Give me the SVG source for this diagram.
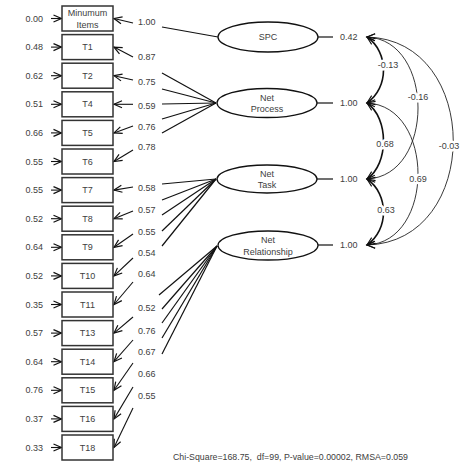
<svg xmlns="http://www.w3.org/2000/svg" width="474" height="467" viewBox="0 0 474 467">
<style>
text{font-family:"Liberation Sans",Arial,sans-serif;font-size:9px;fill:#404040}
.c{text-anchor:middle}
.e{text-anchor:end}
.box{fill:#fff;stroke:#333;stroke-width:1.5}
.ell{fill:#fff;stroke:#111;stroke-width:1.3}
.ln{stroke:#111;stroke-width:1.2;fill:none}
.ar{stroke:#111;stroke-width:1.1;fill:none;marker-end:url(#arr)}
.cv1{stroke:#111;stroke-width:1.6;fill:none;marker-start:url(#arr2);marker-end:url(#arr2)}
.cv2{stroke:#222;stroke-width:0.9;fill:none;marker-start:url(#arr2);marker-end:url(#arr2)}
.lb{paint-order:stroke;stroke:#fff;stroke-width:5px;stroke-linejoin:round}
</style>
<defs>
<marker id="arr" markerUnits="userSpaceOnUse" markerWidth="12" markerHeight="10" refX="8" refY="3.5" orient="auto-start-reverse" overflow="visible">
<path d="M0,0 L8,3.5 L0,7" fill="none" stroke="#111" stroke-width="1.2"/>
</marker>
<marker id="arr2" markerUnits="userSpaceOnUse" markerWidth="12" markerHeight="10" refX="8" refY="3.5" orient="auto-start-reverse" overflow="visible">
<path d="M0,0 L8,3.5 L0,7" fill="none" stroke="#111" stroke-width="1.1"/>
</marker>
</defs>
<rect width="474" height="467" fill="#fff"/>

<g id="connectors">
<!-- error arrows -->
<line class="ar" x1="51" y1="18.5" x2="61.5" y2="18.5"/>
<line class="ar" x1="51" y1="47.1" x2="61.5" y2="47.1"/>
<line class="ar" x1="51" y1="75.7" x2="61.5" y2="75.7"/>
<line class="ar" x1="51" y1="104.3" x2="61.5" y2="104.3"/>
<line class="ar" x1="51" y1="132.9" x2="61.5" y2="132.9"/>
<line class="ar" x1="51" y1="161.5" x2="61.5" y2="161.5"/>
<line class="ar" x1="51" y1="190.1" x2="61.5" y2="190.1"/>
<line class="ar" x1="51" y1="218.7" x2="61.5" y2="218.7"/>
<line class="ar" x1="51" y1="247.3" x2="61.5" y2="247.3"/>
<line class="ar" x1="51" y1="275.9" x2="61.5" y2="275.9"/>
<line class="ar" x1="51" y1="304.5" x2="61.5" y2="304.5"/>
<line class="ar" x1="51" y1="333.1" x2="61.5" y2="333.1"/>
<line class="ar" x1="51" y1="361.7" x2="61.5" y2="361.7"/>
<line class="ar" x1="51" y1="390.3" x2="61.5" y2="390.3"/>
<line class="ar" x1="51" y1="418.9" x2="61.5" y2="418.9"/>
<line class="ar" x1="51" y1="447.5" x2="61.5" y2="447.5"/>
<!-- loading arrows into indicators -->
<line class="ar" x1="133" y1="23" x2="114" y2="18.5"/>
<line class="ar" x1="133" y1="57" x2="114" y2="47.1"/>
<line class="ar" x1="133" y1="80" x2="114" y2="75.7"/>
<line class="ar" x1="133" y1="104.3" x2="114" y2="104.3"/>
<line class="ar" x1="133" y1="126" x2="114" y2="132.9"/>
<line class="ar" x1="133" y1="150" x2="114" y2="161.5"/>
<line class="ar" x1="133" y1="187" x2="114" y2="190.1"/>
<line class="ar" x1="133" y1="211" x2="114" y2="218.7"/>
<line class="ar" x1="133" y1="234" x2="114" y2="247.3"/>
<line class="ar" x1="133" y1="258" x2="114" y2="275.9"/>
<line class="ar" x1="133" y1="282" x2="114" y2="304.5"/>
<line class="ar" x1="133" y1="317" x2="114" y2="333.1"/>
<line class="ar" x1="133" y1="340" x2="114" y2="361.7"/>
<line class="ar" x1="133" y1="363" x2="114" y2="390.3"/>
<line class="ar" x1="133" y1="387" x2="114" y2="418.9"/>
<line class="ar" x1="133" y1="408" x2="114" y2="447.5"/>
<!-- latent fan lines -->
<line class="ln" x1="162" y1="27" x2="218" y2="37"/>
<line class="ln" x1="162" y1="73" x2="216" y2="103"/>
<line class="ln" x1="162" y1="89" x2="216" y2="103"/>
<line class="ln" x1="162" y1="104" x2="216" y2="103"/>
<line class="ln" x1="162" y1="119" x2="216" y2="103"/>
<line class="ln" x1="162" y1="133" x2="216" y2="103"/>
<line class="ln" x1="162" y1="184" x2="216" y2="179"/>
<line class="ln" x1="162" y1="200" x2="216" y2="179"/>
<line class="ln" x1="162" y1="215" x2="216" y2="179"/>
<line class="ln" x1="162" y1="231" x2="216" y2="179"/>
<line class="ln" x1="162" y1="246" x2="216" y2="179"/>
<line class="ln" x1="159" y1="295" x2="217" y2="246"/>
<line class="ln" x1="162" y1="309" x2="217" y2="246"/>
<line class="ln" x1="162" y1="323" x2="217" y2="246"/>
<line class="ln" x1="162" y1="338" x2="217" y2="246"/>
<line class="ln" x1="162" y1="354" x2="217" y2="246"/>
<!-- variance ticks -->
<line class="ln" x1="318" y1="37" x2="333" y2="37"/>
<line class="ln" x1="317" y1="103" x2="333" y2="103"/>
<line class="ln" x1="317" y1="179" x2="333" y2="179"/>
<line class="ln" x1="318" y1="245" x2="333" y2="245"/>
<!-- covariances -->
<path class="cv2" d="M367,37 C482,40 482,242 367,245"/>
<path class="cv2" d="M367,37 C435,40 435,176 367,179"/>
<path class="cv2" d="M367,103 C435,106 435,242 367,245"/>
<path class="cv1" d="M367,37 C389,52 389,88 367,103"/>
<path class="cv1" d="M367,103 C389,118 389,164 367,179"/>
<path class="cv1" d="M367,179 C389,194 389,230 367,245"/>
</g>

<g id="n-min"><rect class="box" x="62" y="6" width="51" height="25"/><text class="c" x="87.5" y="16">Minumum</text><text class="c" x="87.5" y="28">Items</text></g>
<g id="n-t1"><rect class="box" x="62" y="34.6" width="51" height="25"/><text class="c" x="87.5" y="50.1">T1</text></g>
<g id="n-t2"><rect class="box" x="62" y="63.2" width="51" height="25"/><text class="c" x="87.5" y="78.7">T2</text></g>
<g id="n-t4"><rect class="box" x="62" y="91.8" width="51" height="25"/><text class="c" x="87.5" y="107.3">T4</text></g>
<g id="n-t5"><rect class="box" x="62" y="120.4" width="51" height="25"/><text class="c" x="87.5" y="135.9">T5</text></g>
<g id="n-t6"><rect class="box" x="62" y="149" width="51" height="25"/><text class="c" x="87.5" y="164.5">T6</text></g>
<g id="n-t7"><rect class="box" x="62" y="177.6" width="51" height="25"/><text class="c" x="87.5" y="193.1">T7</text></g>
<g id="n-t8"><rect class="box" x="62" y="206.2" width="51" height="25"/><text class="c" x="87.5" y="221.7">T8</text></g>
<g id="n-t9"><rect class="box" x="62" y="234.8" width="51" height="25"/><text class="c" x="87.5" y="250.3">T9</text></g>
<g id="n-t10"><rect class="box" x="62" y="263.4" width="51" height="25"/><text class="c" x="87.5" y="278.9">T10</text></g>
<g id="n-t11"><rect class="box" x="62" y="292" width="51" height="25"/><text class="c" x="87.5" y="307.5">T11</text></g>
<g id="n-t13"><rect class="box" x="62" y="320.6" width="51" height="25"/><text class="c" x="87.5" y="336.1">T13</text></g>
<g id="n-t14"><rect class="box" x="62" y="349.2" width="51" height="25"/><text class="c" x="87.5" y="364.7">T14</text></g>
<g id="n-t15"><rect class="box" x="62" y="377.8" width="51" height="25"/><text class="c" x="87.5" y="393.3">T15</text></g>
<g id="n-t16"><rect class="box" x="62" y="406.4" width="51" height="25"/><text class="c" x="87.5" y="421.9">T16</text></g>
<g id="n-t18"><rect class="box" x="62" y="435" width="51" height="25"/><text class="c" x="87.5" y="450.5">T18</text></g>

<g id="n-spc"><ellipse class="ell" cx="268" cy="37" rx="50" ry="15"/><text class="c" x="268" y="40">SPC</text></g>
<g id="n-process"><ellipse class="ell" cx="267" cy="103" rx="50" ry="14.5"/><text class="c" x="267" y="101">Net</text><text class="c" x="267" y="112">Process</text></g>
<g id="n-task"><ellipse class="ell" cx="267" cy="179" rx="50" ry="14"/><text class="c" x="267" y="177">Net</text><text class="c" x="267" y="188">Task</text></g>
<g id="n-relationship"><ellipse class="ell" cx="268" cy="245.5" rx="50" ry="14.5"/><text class="c" x="268" y="243">Net</text><text class="c" x="268" y="255">Relationship</text></g>

<g id="error-labels">
<text class="e" x="43" y="21.5">0.00</text>
<text class="e" x="43" y="50.1">0.48</text>
<text class="e" x="43" y="78.7">0.62</text>
<text class="e" x="43" y="107.3">0.51</text>
<text class="e" x="43" y="135.9">0.66</text>
<text class="e" x="43" y="164.5">0.55</text>
<text class="e" x="43" y="193.1">0.55</text>
<text class="e" x="43" y="221.7">0.52</text>
<text class="e" x="43" y="250.3">0.64</text>
<text class="e" x="43" y="278.9">0.52</text>
<text class="e" x="43" y="307.5">0.35</text>
<text class="e" x="43" y="336.1">0.57</text>
<text class="e" x="43" y="364.7">0.64</text>
<text class="e" x="43" y="393.3">0.76</text>
<text class="e" x="43" y="421.9">0.37</text>
<text class="e" x="43" y="450.5">0.33</text>
</g>
<g id="loading-labels">
<text x="138" y="25">1.00</text>
<text x="138" y="60">0.87</text>
<text x="138" y="85">0.75</text>
<text x="138" y="109">0.59</text>
<text x="138" y="130">0.76</text>
<text x="138" y="150">0.78</text>
<text x="138" y="191">0.58</text>
<text x="138" y="213">0.57</text>
<text x="138" y="235">0.55</text>
<text x="138" y="256">0.54</text>
<text x="138" y="277">0.64</text>
<text x="138" y="311">0.52</text>
<text x="138" y="334">0.76</text>
<text x="138" y="355">0.67</text>
<text x="138" y="377">0.66</text>
<text x="138" y="399">0.55</text>
</g>
<g id="variance-labels">
<text x="340" y="40">0.42</text>
<text x="340" y="106">1.00</text>
<text x="340" y="182">1.00</text>
<text x="340" y="248">1.00</text>
</g>
<g id="covariance-labels">
<text class="c lb" x="388" y="68">-0.13</text>
<text class="c lb" x="385" y="147">0.68</text>
<text class="c lb" x="386" y="213">0.63</text>
<text class="c lb" x="418" y="100">-0.16</text>
<text class="c lb" x="418" y="182">0.69</text>
<text class="c lb" x="449" y="149">-0.03</text>
</g>
<text x="173" y="460" xml:space="preserve" textLength="235" lengthAdjust="spacingAndGlyphs">Chi-Square=168.75,  df=99, P-value=0.00002, RMSA=0.059</text>
</svg>
